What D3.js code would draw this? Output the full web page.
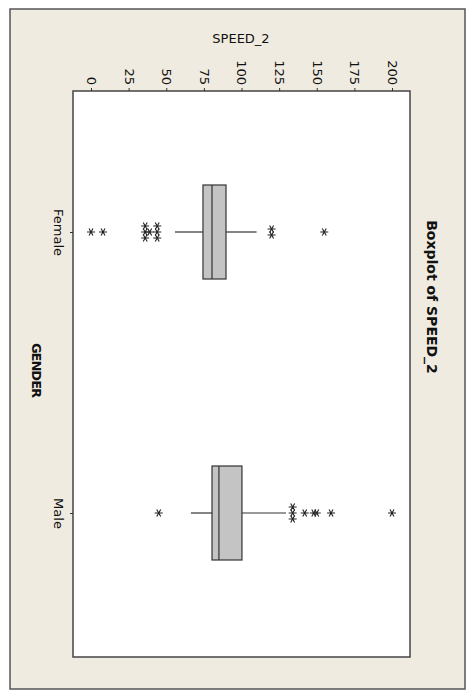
<!DOCTYPE html>
<html><head><meta charset="utf-8">
<script src="https://cdn.jsdelivr.net/npm/d3@7"></script>
<style>body{margin:0;background:#fff}text{font-family:"DejaVu Sans",sans-serif;fill:#111}</style>
</head><body><svg id="c" width="474" height="699"></svg>
<script>
const categories = ["Female", "Male"];
const q1 = [74.4, 80.4];
const median = [80.4, 85];
const q3 = [89.7, 100.3];
const whiskerLow = [55.8, 66.4];
const whiskerHigh = [110, 129.6];
const outliers = [
  [0, 8, 36, 36, 36, 39, 44, 44, 44, 120, 120, 155],
  [45, 134, 134, 134, 142, 148, 150, 159.5, 200]
];
const tickValues = [0, 25, 50, 75, 100, 125, 150, 175, 200];

const svg = d3.select("#c");
svg.append("rect").attr("x",10).attr("y",9).attr("width",455).attr("height",680)
  .attr("fill","#f0ebe1").attr("stroke","#555").attr("stroke-width",1.5);
const L=73,R=410,T=91,B=657;
svg.append("rect").attr("x",L).attr("y",T).attr("width",R-L).attr("height",B-T)
  .attr("fill","#fff").attr("stroke","#444").attr("stroke-width",1.5);

const x = d3.scaleLinear().domain([0,200]).range([91,392]);
const y = d3.scalePoint().domain(categories).range([232,513]);

const ax = svg.append("g").attr("transform",`translate(0,${T})`)
  .call(d3.axisTop(x).tickValues(tickValues).tickSize(3).tickSizeOuter(0));
ax.select(".domain").remove();
ax.selectAll("line").attr("stroke","#333");
ax.selectAll("text").attr("transform","rotate(90)").attr("text-anchor","end")
  .attr("dy","0.35em").attr("x",-6).attr("y",0).style("font-size","13px");
svg.append("text").attr("x",241).attr("y",43).attr("text-anchor","middle")
  .style("font-size","13px").text("SPEED_2");

const cy = svg.append("g").attr("transform",`translate(${L},0)`)
  .call(d3.axisLeft(y).tickSize(3).tickSizeOuter(0));
cy.select(".domain").remove();
cy.selectAll("line").attr("stroke","#333");
cy.selectAll("text").attr("transform","translate(-14,0) rotate(90)")
  .attr("y",0).attr("x",0).attr("text-anchor","middle").attr("dy","0.35em").style("font-size","13px");
svg.append("text").attr("transform","translate(37,370) rotate(90)").attr("text-anchor","middle")
  .attr("dy","0.35em").style("font-size","13px").style("font-weight","bold").style("letter-spacing","-1px").text("GENDER");
svg.append("text").attr("transform","translate(432,297) rotate(90)").attr("text-anchor","middle")
  .attr("dy","0.35em").style("font-size","14px").style("font-weight","bold").text("Boxplot of SPEED_2");

const hw = 47;
categories.forEach((c,i)=>{
  const cyv=y(c);
  const g=svg.append("g").attr("stroke","#333").attr("stroke-width",1.2);
  g.append("line").attr("x1",x(whiskerLow[i])).attr("x2",x(q1[i])).attr("y1",cyv).attr("y2",cyv);
  g.append("line").attr("x1",x(q3[i])).attr("x2",x(whiskerHigh[i])).attr("y1",cyv).attr("y2",cyv);
  g.append("rect").attr("x",x(q1[i])).attr("width",x(q3[i])-x(q1[i])).attr("y",cyv-hw).attr("height",2*hw).attr("fill","#c4c4c4");
  g.append("line").attr("x1",x(median[i])).attr("x2",x(median[i])).attr("y1",cyv-hw).attr("y2",cyv+hw);
  const counts=d3.rollup(outliers[i],v=>v.length,d=>d);
  const seen=new Map();
  outliers[i].forEach(v=>{
    const n=counts.get(v), k=seen.get(v)||0; seen.set(v,k+1);
    const px=x(v), py=cyv+(k-(n-1)/2)*6, r=4;
    let d="";
    for(let a=0;a<3;a++){const t=a*Math.PI/3;d+=`M${px-r*Math.cos(t)},${py-r*Math.sin(t)}L${px+r*Math.cos(t)},${py+r*Math.sin(t)}`;}
    svg.append("path").attr("d",d).attr("stroke","#222").attr("stroke-width",1.1).attr("fill","none");
  });
});
</script></body></html>
